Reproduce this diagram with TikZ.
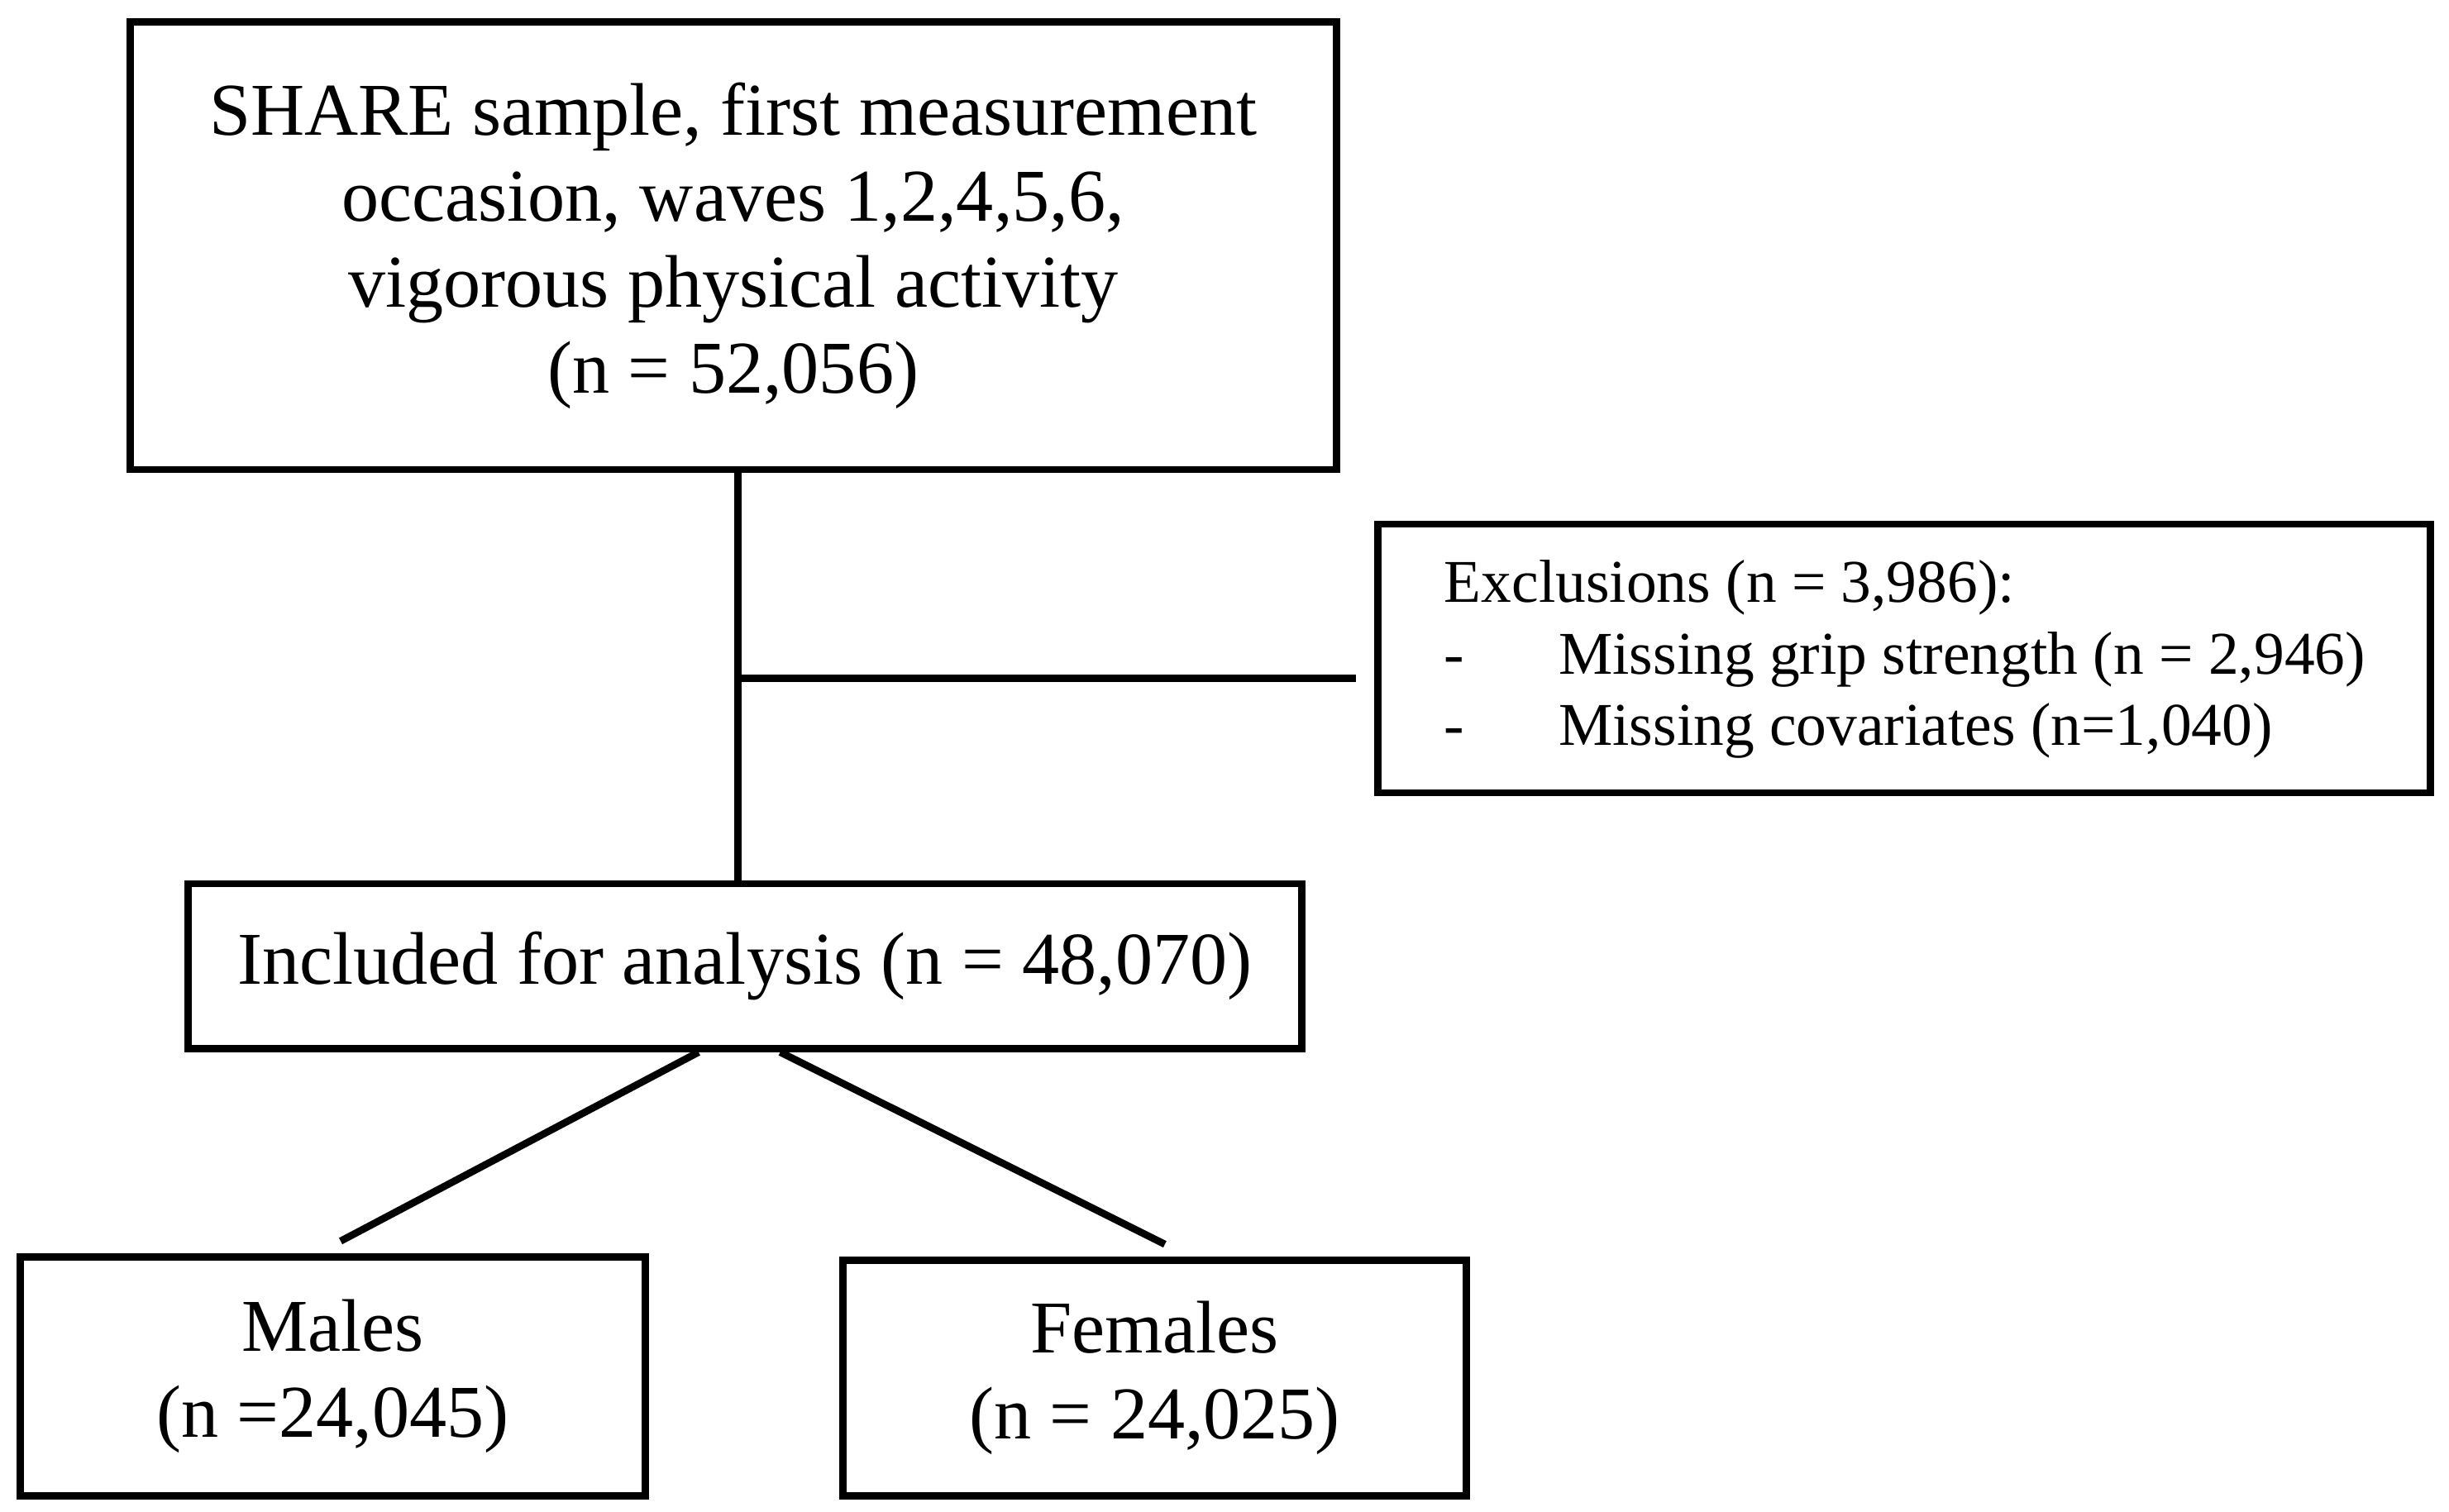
\documentclass[tikz,border=0pt]{standalone}
\usepackage{fontspec}
\setmainfont{Liberation Serif}
\usetikzlibrary{calc}
\begin{document}
\begin{tikzpicture}[x=0.01cm,y=-0.01cm,line width=1.3pt,
  box/.style={draw,line width=1.3pt,inner sep=0pt},
  big/.style={font=\fontsize{13.5}{15.6}\selectfont,align=center},
  small/.style={font=\fontsize{11}{13}\selectfont,align=left}]
\useasboundingbox (0,0) rectangle (1560,963);
\node[box,minimum width=768\pgflinewidth/1.3pt*0+7.68cm,minimum height=2.85cm] (top) at (467,156.5) {};
\node[big] at (top.center) {SHARE sample, first measurement\\occasion, waves 1,2,4,5,6,\\vigorous physical activity\\(n = 52,056)};
\node[box,minimum width=6.70cm,minimum height=1.71cm] (exc) at (1213,419.5) {};
\node[small,anchor=west] at (906,420) {Exclusions (n = 3,986):\\
-\hspace{1.55em}Missing grip strength (n = 2,946)\\
-\hspace{1.55em}Missing covariates (n=1,040)};
\node[box,minimum width=7.09cm,minimum height=1.05cm] (inc) at (474.5,615.5) {};
\node[big] at (inc.center) {Included for analysis (n = 48,070)};
\node[box,minimum width=3.98cm,minimum height=1.52cm] (m) at (212,877) {};
\node[big] at (m.center) {Males\\(n =24,045)};
\node[box,minimum width=3.97cm,minimum height=1.50cm] (f) at (735.5,878) {};
\node[big] at (f.center) {Females\\(n = 24,025)};
\coordinate (j) at (470,432);
\draw (top.south -| j) -- (inc.north -| j);
\draw (j) -- ($(exc.west)+(-12,12.5)$);
\draw ($(inc.south)+(-29.5,0)$) -- ($(m.north)+(5,-8)$);
\draw ($(inc.south)+(22.5,0)$) -- ($(f.north)+(6.5,-8)$);
\end{tikzpicture}
\end{document}
